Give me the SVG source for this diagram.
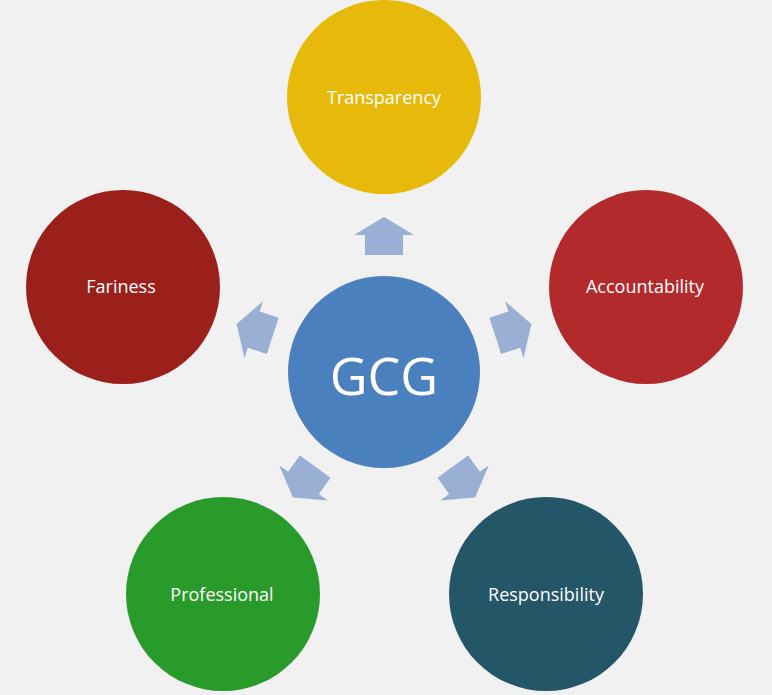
<svg xmlns="http://www.w3.org/2000/svg" width="772" height="695" viewBox="0 0 772 695">
<defs>
<style>
.t{font-family:"Open Sans","Liberation Sans",sans-serif;fill:#fff;text-anchor:middle;dominant-baseline:central;font-size:18px}
.a{fill:#9aafd4}
</style>
<path id="arr" class="a" d="M384,217 L414,235 L403,235 L403,255 L365,255 L365,235 L354,235 Z"/>
</defs>
<rect width="772" height="695" fill="#f1f1f1"/>
<g id="connectors">
<use href="#arr"/>
<use href="#arr" transform="rotate(72 384 372)"/>
<use href="#arr" transform="rotate(144 384 372)"/>
<use href="#arr" transform="rotate(216 384 372)"/>
<use href="#arr" transform="rotate(288 384 372)"/>
</g>
<g id="gcg"><circle cx="384" cy="372" r="96" fill="#4b80bf"/><text class="t" x="384" y="374" style="font-size:52px">GCG</text></g>
<g id="transparency"><circle cx="384" cy="97" r="97" fill="#e7b90b"/><text class="t" x="384" y="97">Transparency</text></g>
<g id="accountability"><circle cx="646" cy="287" r="97" fill="#b22a2b"/><text class="t" x="645" y="286">Accountability</text></g>
<g id="responsibility"><circle cx="546" cy="594" r="97" fill="#235666"/><text class="t" x="546" y="594">Responsibility</text></g>
<g id="professional"><circle cx="223" cy="594" r="97" fill="#289b2a"/><text class="t" x="222" y="594">Professional</text></g>
<g id="fariness"><circle cx="123" cy="287" r="97" fill="#9b1f1a"/><text class="t" x="121" y="286">Fariness</text></g>
</svg>
